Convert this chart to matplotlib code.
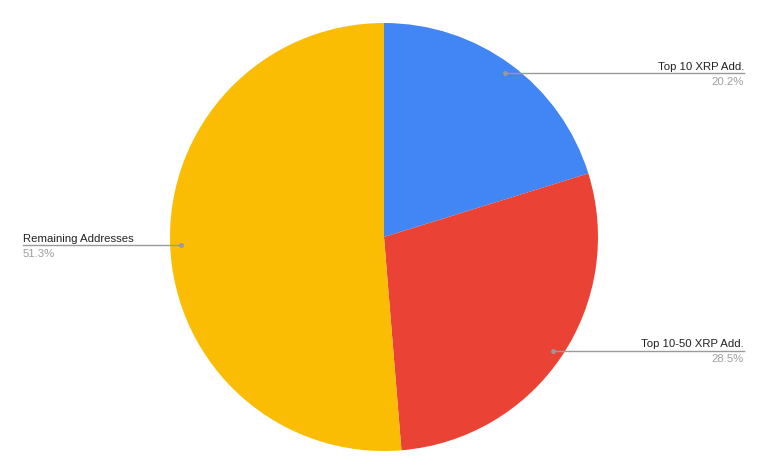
import numpy as np
import matplotlib.pyplot as plt

labels = ["Top 10 XRP Add.", "Top 10-50 XRP Add.", "Remaining Addresses"]
shares = [20.2, 28.5, 51.3]
colors = ["#4285F4", "#EA4335", "#FBBC04"]

plt.rcParams['font.family'] = ['Liberation Sans', 'DejaVu Sans']

W, H = 768, 475
fig = plt.figure(figsize=(W / 100, H / 100), dpi=100)
ax = fig.add_axes([0, 0, 1, 1])

cx, cy, r = 384, H - 237, 214
ax.pie(shares, colors=colors, startangle=90, counterclock=False,
       center=(cx, cy), radius=r, frame=True,
       wedgeprops=dict(linewidth=0))
ax.set_xlim(0, W)
ax.set_ylim(0, H)
ax.set_aspect('equal')
ax.axis('off')

# leader lines and labels
total = sum(shares)
start = 90.0
for lab, s in zip(labels, shares):
    sweep = s / total * 360
    mid = np.deg2rad(start - sweep / 2)
    start -= sweep
    px = cx + 0.95 * r * np.cos(mid)
    py = cy + 0.95 * r * np.sin(mid)
    if np.cos(mid) >= 0:
        tx, ha = 744, 'right'
    else:
        tx, ha = 23, 'left'
    ax.plot([px, tx], [py, py], color='#9a9a9a', lw=1, zorder=3)
    ax.plot(px, py, 'o', ms=2.5, color='#9a9a9a', zorder=4)
    ax.text(tx, py + 1.5, lab, ha=ha, va='bottom', fontsize=8.2, color='#222222')
    ax.text(tx, py - 3.5, f"{s}%", ha=ha, va='top', fontsize=8.2, color='#9e9e9e')

fig.savefig("out.png", dpi=100)
